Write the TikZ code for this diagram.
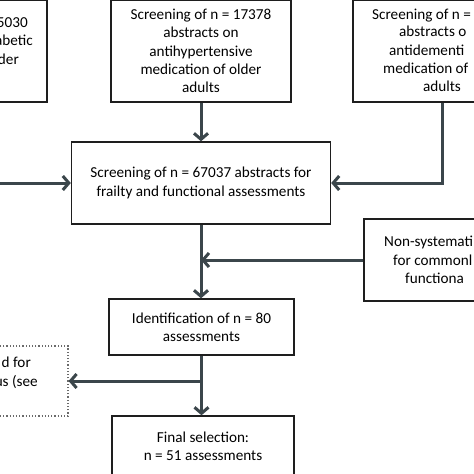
\documentclass[tikz,border=0pt]{standalone}
\usepackage{fontspec}
\setmainfont{Carlito}
\usetikzlibrary{arrows.meta}
\definecolor{pfeil}{HTML}{3B464B}
\definecolor{rand}{HTML}{1E1E1E}
\definecolor{punkt}{HTML}{6A6A6A}
\newcommand{\fsz}{\fontsize{15.2pt}{18.3pt}\selectfont}
\tikzset{
  box/.style={draw=rand,line width=1.4pt,fill=white,align=center,inner sep=0pt,font=\fsz},
  dbox/.style={draw=punkt,dotted,line width=1.2pt,fill=white},
  frag/.style={inner sep=0pt,font=\fsz,text height=12.8pt,text depth=5.5pt},
  flow/.style={-{Straight Barb[length=6pt,width=14pt]},pfeil,line width=3pt},
}

\begin{document}
\begin{tikzpicture}[x=1pt,y=-1pt]
  \path[use as bounding box,clip] (0,0) rectangle (474,474);
  \fill[white] (0,0) rectangle (474,474);
  \node[box,minimum width=180,minimum height=102] (adiab) at (-43,51) {};
  \node[frag,anchor=east] (adiab1) at (28,24) {5030};
  \node[frag,anchor=east] (adiab2) at (33,42) {abetic};
  \node[frag,anchor=east] (adiab3) at (19,61) {der};
  \node[box,minimum width=180,minimum height=102] (ahyp) at (201,51)
    {Screening of n = 17378\\abstracts on\\antihypertensive\\medication of older\\adults};
  \node[box,minimum width=178,minimum height=102] (adem) at (442,51) {};
  \node[frag,anchor=west] (adem1) at (372,16) {Screening of n =};
  \node[frag,anchor=west] (adem2) at (399,33) {abstracts o};
  \node[frag,anchor=west] (adem3) at (389,52) {antidementi};
  \node[frag,anchor=west] (adem4) at (383,70) {medication of};
  \node[frag] (adem5) at (442,88) {adults};
  \node[box,minimum width=259,minimum height=82] (main) at (201,183)
    {Screening of n = 67037 abstracts for\\frailty and functional assessments};
  \node[box,minimum width=180,minimum height=82] (nsys) at (454,260) {};
  \node[frag,anchor=west] (nsys1) at (384,243) {Non-systemati};
  \node[frag,anchor=west] (nsys2) at (393,262) {for commonl};
  \node[frag,anchor=west] (nsys3) at (405,280) {functiona};
  \node[box,minimum width=185,minimum height=56] (ident) at (201.5,327)
    {Identification of n = 80\\assessments};
  \node[dbox,minimum width=180,minimum height=70] (excl) at (-22,381) {};
  \node[frag,anchor=east] (excl1) at (31,364) {d for};
  \node[frag,anchor=east] (excl2) at (38,383) {us (see};
  \node[box,minimum width=182,minimum height=60] (final) at (203,446)
    {Final selection:\\n = 51 assessments};
  \coordinate (j1) at (main.south |- nsys.west);
  \coordinate (j2) at (ident.south |- excl.east);
  \draw[flow] (ahyp.south) -- (main.north);
  \draw[flow] (adiab.south) |- (main.west);
  \draw[flow] (adem.south) |- (main.east);
  \draw[flow] (main.south) -- (main.south |- ident.north);
  \draw[flow] (nsys.west) -- (j1);
  \draw[flow] (j2) -- (excl.east);
  \draw[flow] (ident.south) -- (ident.south |- final.north);
\end{tikzpicture}
\end{document}
